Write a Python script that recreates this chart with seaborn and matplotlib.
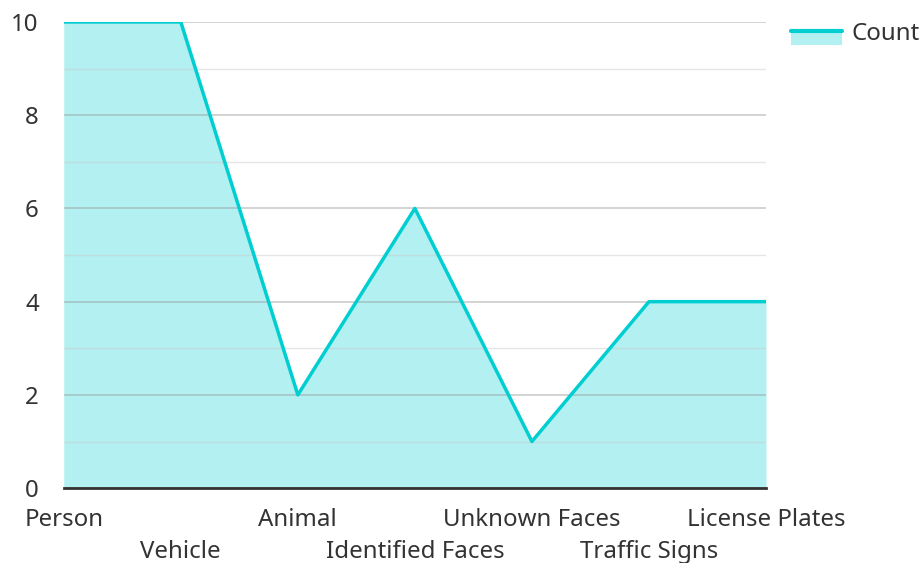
import matplotlib
matplotlib.use("Agg")
import matplotlib.pyplot as plt
import seaborn as sns
import pandas as pd
from matplotlib.legend_handler import HandlerBase
from matplotlib.patches import Rectangle
from matplotlib.lines import Line2D

# ── Data ──────────────────────────────────────────────────────────────────────
categories = ["Person", "Vehicle", "Animal", "Identified Faces",
              "Unknown Faces", "Traffic Signs", "License Plates"]
counts = [10, 10, 2, 6, 1, 4, 4]

LINE = "#00CED1"
TEXT = "#333333"

sns.set_style("white")
plt.rcParams["font.family"] = ["Noto Sans", "DejaVu Sans"]

df = pd.DataFrame({"pos": range(len(categories)), "Count": counts})

fig = plt.figure(figsize=(9.24, 5.63), dpi=100)
ax = fig.add_axes([0.069, 0.133, 0.760, 0.828])

# area + line
ax.fill_between(df["pos"], df["Count"], color=LINE, alpha=0.3, lw=0, zorder=1)
sns.lineplot(data=df, x="pos", y="Count", color=LINE, lw=2.5, ax=ax,
             legend=False, zorder=3)

# axes / grid
ax.set_xlim(0, len(categories) - 1)
ax.set_ylim(0, 10)
ax.set_yticks(range(0, 11, 2))
ax.set_yticks(range(1, 11, 2), minor=True)
ax.grid(axis="y", which="major", color="#999999", alpha=0.5, lw=1.2, zorder=2)
ax.grid(axis="y", which="minor", color="#cccccc", alpha=0.5, lw=1.0, zorder=2)
ax.set_axisbelow(False)

# staggered category labels: even on first row, odd on second
even = list(range(0, len(categories), 2))
odd = list(range(1, len(categories), 2))
ax.set_xticks(even)
ax.set_xticklabels([categories[i] for i in even])
ax.set_xticks(odd, minor=True)
ax.set_xticklabels([categories[i] for i in odd], minor=True)
ax.tick_params(axis="x", which="major", length=0, pad=14, labelsize=17.3, labelcolor=TEXT)
ax.tick_params(axis="x", which="minor", length=0, pad=37, labelsize=17.3, labelcolor=TEXT)
ax.tick_params(axis="y", which="both", length=0, pad=18, labelsize=17.3, labelcolor=TEXT)

for side in ["top", "right", "left"]:
    ax.spines[side].set_visible(False)
ax.spines["bottom"].set_color(TEXT)
ax.spines["bottom"].set_linewidth(2)
ax.spines["bottom"].set_zorder(4)
ax.set_xlabel("")
ax.set_ylabel("")


# legend: small area swatch with line on top
class AreaHandler(HandlerBase):
    def create_artists(self, legend, orig, xd, yd, w, h, fontsize, trans):
        top = yd + h * 0.55
        bottom = yd - h * 0.3
        rect = Rectangle((xd, bottom), w, top - bottom,
                         facecolor=LINE, alpha=0.3, lw=0, transform=trans)
        line = Line2D([xd, xd + w], [top, top], color=LINE, lw=3, transform=trans)
        return [rect, line]


fig.legend([Rectangle((0, 0), 1, 1)], ["Count"], handler_map={Rectangle: AreaHandler()},
           loc="upper left", bbox_to_anchor=(0.833, 0.999), frameon=False,
           fontsize=17.3, handlelength=2.1, handletextpad=0.42, labelcolor=TEXT)

fig.savefig("out.png", dpi=100)
